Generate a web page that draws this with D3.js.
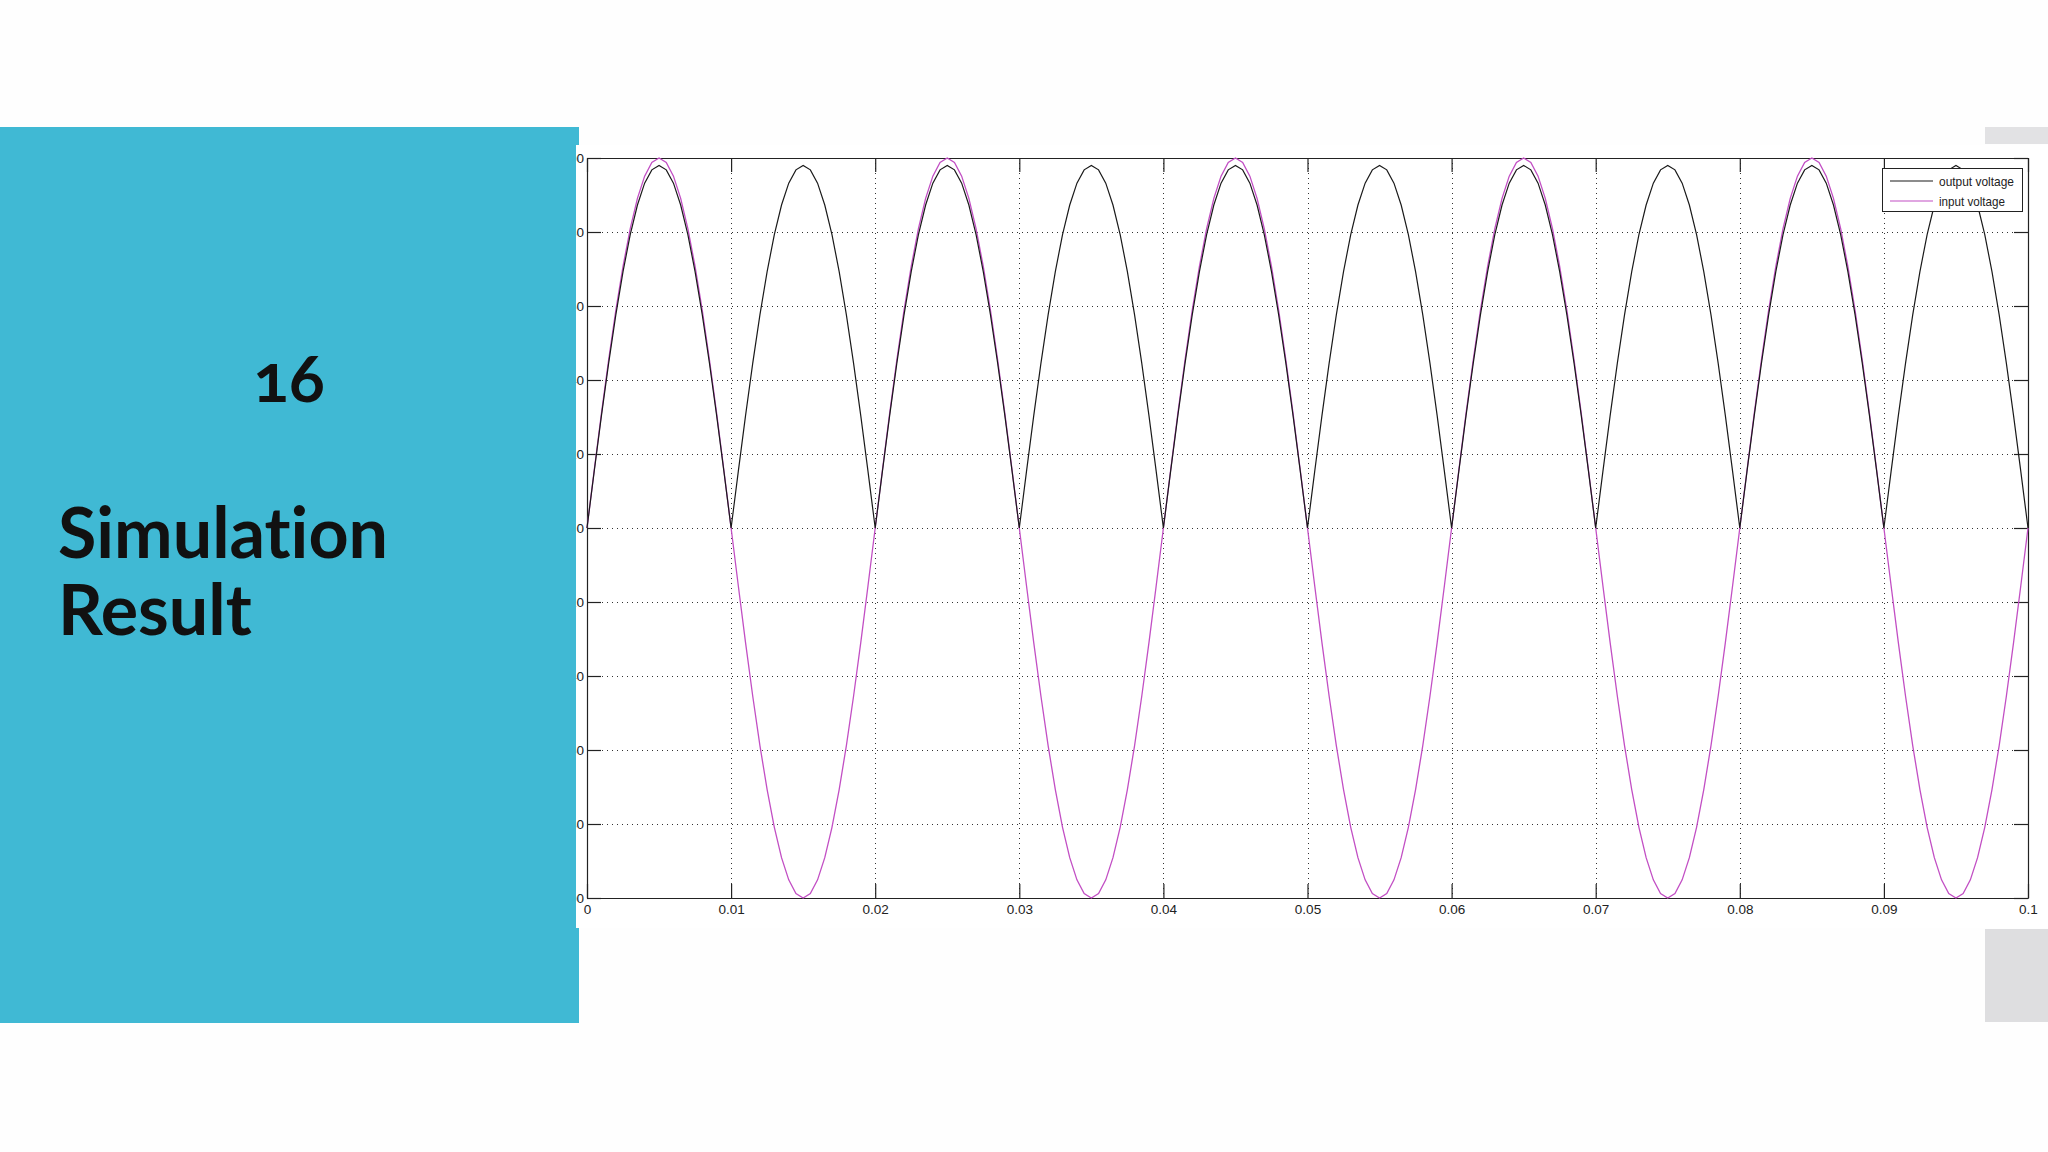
<!DOCTYPE html>
<html><head><meta charset="utf-8">
<script src="https://cdn.jsdelivr.net/npm/d3@7"></script>
<style>html,body{margin:0;padding:0;background:#fff;overflow:hidden}</style>
</head><body>
<script>
// ---- data ----
const sampleStep = 0.0005; // seconds between samples
const inputVoltage = [
0,15.6,30.9,45.4,58.8,70.7,80.9,89.1,95.1,98.8,100,98.8,95.1,89.1,80.9,70.7,58.8,45.4,30.9,15.6,
0,-15.6,-30.9,-45.4,-58.8,-70.7,-80.9,-89.1,-95.1,-98.8,-100,-98.8,-95.1,-89.1,-80.9,-70.7,-58.8,-45.4,-30.9,-15.6,
0,15.6,30.9,45.4,58.8,70.7,80.9,89.1,95.1,98.8,100,98.8,95.1,89.1,80.9,70.7,58.8,45.4,30.9,15.6,
0,-15.6,-30.9,-45.4,-58.8,-70.7,-80.9,-89.1,-95.1,-98.8,-100,-98.8,-95.1,-89.1,-80.9,-70.7,-58.8,-45.4,-30.9,-15.6,
0,15.6,30.9,45.4,58.8,70.7,80.9,89.1,95.1,98.8,100,98.8,95.1,89.1,80.9,70.7,58.8,45.4,30.9,15.6,
0,-15.6,-30.9,-45.4,-58.8,-70.7,-80.9,-89.1,-95.1,-98.8,-100,-98.8,-95.1,-89.1,-80.9,-70.7,-58.8,-45.4,-30.9,-15.6,
0,15.6,30.9,45.4,58.8,70.7,80.9,89.1,95.1,98.8,100,98.8,95.1,89.1,80.9,70.7,58.8,45.4,30.9,15.6,
0,-15.6,-30.9,-45.4,-58.8,-70.7,-80.9,-89.1,-95.1,-98.8,-100,-98.8,-95.1,-89.1,-80.9,-70.7,-58.8,-45.4,-30.9,-15.6,
0,15.6,30.9,45.4,58.8,70.7,80.9,89.1,95.1,98.8,100,98.8,95.1,89.1,80.9,70.7,58.8,45.4,30.9,15.6,
0,-15.6,-30.9,-45.4,-58.8,-70.7,-80.9,-89.1,-95.1,-98.8,-100,-98.8,-95.1,-89.1,-80.9,-70.7,-58.8,-45.4,-30.9,-15.6,
0];
const outputVoltage = [
0,15.3,30.3,44.5,57.6,69.3,79.3,87.3,93.2,96.8,98,96.8,93.2,87.3,79.3,69.3,57.6,44.5,30.3,15.3,
0,15.3,30.3,44.5,57.6,69.3,79.3,87.3,93.2,96.8,98,96.8,93.2,87.3,79.3,69.3,57.6,44.5,30.3,15.3,
0,15.3,30.3,44.5,57.6,69.3,79.3,87.3,93.2,96.8,98,96.8,93.2,87.3,79.3,69.3,57.6,44.5,30.3,15.3,
0,15.3,30.3,44.5,57.6,69.3,79.3,87.3,93.2,96.8,98,96.8,93.2,87.3,79.3,69.3,57.6,44.5,30.3,15.3,
0,15.3,30.3,44.5,57.6,69.3,79.3,87.3,93.2,96.8,98,96.8,93.2,87.3,79.3,69.3,57.6,44.5,30.3,15.3,
0,15.3,30.3,44.5,57.6,69.3,79.3,87.3,93.2,96.8,98,96.8,93.2,87.3,79.3,69.3,57.6,44.5,30.3,15.3,
0,15.3,30.3,44.5,57.6,69.3,79.3,87.3,93.2,96.8,98,96.8,93.2,87.3,79.3,69.3,57.6,44.5,30.3,15.3,
0,15.3,30.3,44.5,57.6,69.3,79.3,87.3,93.2,96.8,98,96.8,93.2,87.3,79.3,69.3,57.6,44.5,30.3,15.3,
0,15.3,30.3,44.5,57.6,69.3,79.3,87.3,93.2,96.8,98,96.8,93.2,87.3,79.3,69.3,57.6,44.5,30.3,15.3,
0,15.3,30.3,44.5,57.6,69.3,79.3,87.3,93.2,96.8,98,96.8,93.2,87.3,79.3,69.3,57.6,44.5,30.3,15.3,
0];
const xTicks = [0,0.01,0.02,0.03,0.04,0.05,0.06,0.07,0.08,0.09,0.1];
const xTickLabels = ["0","0.01","0.02","0.03","0.04","0.05","0.06","0.07","0.08","0.09","0.1"];
const yTicks = [-100,-80,-60,-40,-20,0,20,40,60,80,100];
const legendLabels = ["output voltage","input voltage"];
const slideNumber = "16";
const slideTitle = ["Simulation","Result"];

// ---- drawing ----
const W = 2048, H = 1152;
const svg = d3.select("body").append("svg").attr("width", W).attr("height", H);
svg.append("rect").attr("width", W).attr("height", H).attr("fill", "#fefefe");

// grey decorative blocks at right
svg.append("rect").attr("x",1985).attr("y",127).attr("width",63).attr("height",17).attr("fill","#e2e2e4");
svg.append("rect").attr("x",1985).attr("y",929).attr("width",63).attr("height",93).attr("fill","#dedee0");

// blue panel
svg.append("rect").attr("x",0).attr("y",127).attr("width",579).attr("height",896).attr("fill","#40b9d4");

// chart image area
const img = {x:576, y:145, w:W-576, h:928-145};
svg.append("defs").append("clipPath").attr("id","imgclip")
  .append("rect").attr("x",img.x).attr("y",img.y).attr("width",img.w).attr("height",img.h);
const chart = svg.append("g").attr("clip-path","url(#imgclip)");
chart.append("rect").attr("x",img.x).attr("y",img.y).attr("width",img.w).attr("height",img.h).attr("fill","#fff");

const L = 587, R = 2028, T = 158, B = 898;
const x = d3.scaleLinear().domain([0,0.1]).range([L,R]);
const y = d3.scaleLinear().domain([-100,100]).range([B,T]);

// grid
const grid = chart.append("g").attr("stroke","#333").attr("stroke-width",1).attr("stroke-dasharray","1,4");
grid.selectAll("line.v").data(xTicks.slice(1,-1)).join("line")
  .attr("x1",d=>Math.round(x(d))+0.5).attr("x2",d=>Math.round(x(d))+0.5).attr("y1",T).attr("y2",B);
grid.selectAll("line.h").data(yTicks.slice(1,-1)).join("line")
  .attr("y1",d=>Math.round(y(d))+0.5).attr("y2",d=>Math.round(y(d))+0.5).attr("x1",L).attr("x2",R);

// axes with inward ticks on all sides
const tickLen = 14;
const fmtX = (d,i)=>xTickLabels[i];
const axB = chart.append("g").attr("transform",`translate(0,${B})`)
  .call(d3.axisBottom(x).tickValues(xTicks).tickFormat(fmtX).tickSizeInner(-tickLen).tickSizeOuter(0).tickPadding(6));
const axT = chart.append("g").attr("transform",`translate(0,${T})`)
  .call(d3.axisTop(x).tickValues(xTicks).tickFormat("").tickSizeInner(-tickLen).tickSizeOuter(0));
const axL = chart.append("g").attr("transform",`translate(${L},0)`)
  .call(d3.axisLeft(y).tickValues(yTicks).tickFormat(d3.format("d")).tickSizeInner(-tickLen).tickSizeOuter(0).tickPadding(3));
const axR = chart.append("g").attr("transform",`translate(${R},0)`)
  .call(d3.axisRight(y).tickValues(yTicks).tickFormat("").tickSizeInner(-tickLen).tickSizeOuter(0));
[axB,axT,axL,axR].forEach(a=>{
  a.selectAll(".domain").attr("stroke","#222").attr("stroke-width",1.2);
  a.selectAll(".tick line").attr("stroke","#222").attr("stroke-width",1.2);
  a.selectAll("text").attr("fill","#222").attr("font-family","Liberation Sans, Arial, sans-serif").attr("font-size",13.5);
});

// series
const line = d3.line().x((d,i)=>x(i*sampleStep)).y(d=>y(d));
chart.append("path").datum(inputVoltage).attr("d",line)
  .attr("fill","none").attr("stroke","#c24fc4").attr("stroke-width",1.3);
chart.append("path").datum(outputVoltage).attr("d",line)
  .attr("fill","none").attr("stroke","#1a1a1a").attr("stroke-width",1.2);

// legend
const lg = chart.append("g");
lg.append("rect").attr("x",1882.5).attr("y",168.5).attr("width",140).attr("height",43)
  .attr("fill","#fff").attr("stroke","#222").attr("stroke-width",1);
const legendColors = ["#1a1a1a","#c24fc4"];
legendLabels.forEach((lab,i)=>{
  const yy = 181 + i*20;
  lg.append("line").attr("x1",1890).attr("x2",1933).attr("y1",yy).attr("y2",yy)
    .attr("stroke",legendColors[i]).attr("stroke-width",1.2);
  lg.append("text").attr("x",1939).attr("y",yy+4.5).text(lab)
    .attr("font-family","Liberation Sans, Arial, sans-serif").attr("font-size",13.5).attr("fill","#222")
    .attr("textLength", i===0 ? 75 : 66).attr("lengthAdjust","spacingAndGlyphs");
});

// slide text
svg.append("text").attr("x",289).attr("y",402).attr("text-anchor","middle")
  .attr("font-family","Lato, 'Open Sans', sans-serif").attr("font-weight",700)
  .attr("font-size",66).attr("fill","#111").style("font-variant-numeric","oldstyle-nums")
  .text(slideNumber);
slideTitle.forEach((t,i)=>{
  svg.append("text").attr("x",58).attr("y",558+i*77)
    .attr("font-family","Lato, 'Open Sans', sans-serif").attr("font-weight",700)
    .style("font-variant-ligatures","none").style("font-feature-settings","'liga' 0")
    .attr("font-size",70).attr("fill","#111").text(t);
});
</script>
</body></html>
